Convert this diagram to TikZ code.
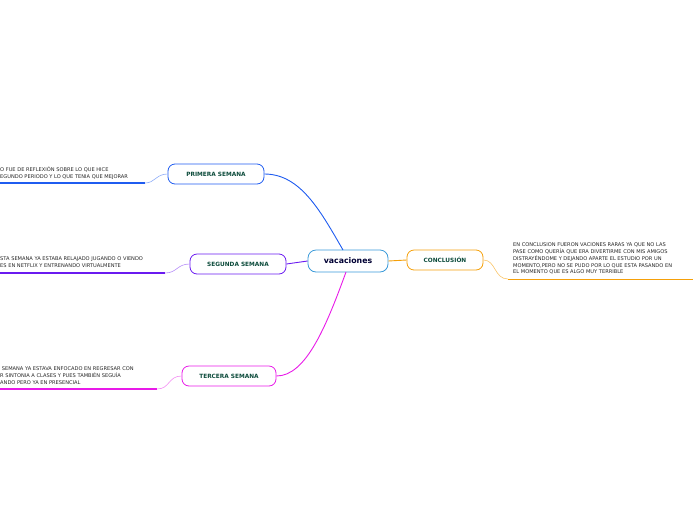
\documentclass[tikz,border=0pt]{standalone}
\usepackage{fontspec}
\setmainfont{DejaVu Sans}
\definecolor{colb}{HTML}{1F5CF0}
\definecolor{colp}{HTML}{6A1AF0}
\definecolor{colm}{HTML}{E81AE8}
\definecolor{colo}{HTML}{F5A00A}
\definecolor{colc}{HTML}{3A9AD9}
\definecolor{tg}{HTML}{0B4A3A}
\begin{document}
\begin{tikzpicture}[x=1pt,y=-1pt,
 topic/.style={draw,rounded corners=7pt,line width=0.8pt,minimum height=20pt,font=\fontsize{5.8pt}{6pt}\selectfont\bfseries,text=tg,inner sep=0pt},
 txt/.style={font=\fontsize{5.1pt}{6.7pt}\selectfont,align=left,inner sep=0pt,text=black!85},
 uline/.style={line width=1.1pt}]
\useasboundingbox (0,0) rectangle (696,520);
\clip (0,0) rectangle (696,520);
\node[draw=colc,rounded corners=8pt,line width=0.8pt,minimum width=80pt,minimum height=22pt,font=\fontsize{7.8pt}{8pt}\selectfont\bfseries,text=black!80!blue] (v) at (348,261) {vacaciones};
\node[topic,draw=colb,minimum width=96pt] (p) at (216,174) {PRIMERA SEMANA};
\node[topic,draw=colp,minimum width=96pt] (s) at (238,264) {SEGUNDA SEMANA};
\node[topic,draw=colm,minimum width=94pt] (t) at (229,376) {TERCERA SEMANA};
\node[topic,draw=colo,minimum width=76pt] (c) at (445,260) {CONCLUSIÓN};
\node[txt,anchor=north west] (pt) at (0,167) {O FUE DE REFLEXIÓN SOBRE LO QUE HICE\\EGUNDO PERIODO Y LO QUE TENIA QUE MEJORAR};
\node[txt,anchor=north west] (st) at (0,257) {STA SEMANA YA ESTABA RELAJADO JUGANDO O VIENDO\\ES EN NETFLIX Y ENTRENANDO VIRTUALMENTE};
\node[txt,anchor=north west] (tt) at (0,367) {\ SEMANA YA ESTAVA ENFOCADO EN REGRESAR CON\\R SINTONIA A CLASES Y PUES TAMBIÉN SEGUÍA\\ANDO PERO YA EN PRESENCIAL};
\node[txt,anchor=north west] (ct) at (513,243) {EN CONCLUSION FUERON VACIONES RARAS YA QUE NO LAS\\PASE COMO QUERÍA QUE ERA DIVERTIRME CON MIS AMIGOS\\DISTRAYÉNDOME Y DEJANDO APARTE EL ESTUDIO POR UN\\MOMENTO,PERO NO SE PUDO POR LO QUE ESTA PASANDO EN\\EL MOMENTO QUE ES ALGO MUY TERRIBLE};
\coordinate (pu) at (145,183); \coordinate (su) at (165,273);
\coordinate (tu) at (157,389); \coordinate (cu) at (508,279);
\draw[uline,draw=colb] (0,183) -- (pu);
\draw[uline,draw=colp] (0,273) -- (su);
\draw[uline,draw=colm] (0,389) -- (tu);
\draw[uline,draw=colo,line width=0.9pt] (cu) -- (693,279);
\draw[draw=colb!50,line width=0.6pt] (pu) .. controls (155,183) and (156,174) .. (p.west);
\draw[draw=colp!50,line width=0.6pt] (su) .. controls (177,273) and (177,264) .. (s.west);
\draw[draw=colm!50,line width=0.6pt] (tu) .. controls (170,389) and (168,376) .. (t.west);
\draw[draw=colo!60,line width=0.6pt] (c.east) .. controls (496,260) and (494,279) .. (cu);
\draw[draw=colb,line width=0.9pt] (343,250) .. controls (320,210) and (300,174) .. (p.east);
\draw[draw=colp,line width=0.9pt] (v.west) -- (s.east);
\draw[draw=colm,line width=0.9pt] (346,272) .. controls (325,330) and (305,376) .. (t.east);
\draw[draw=colo,line width=0.9pt] (v.east) -- (c.west);
\end{tikzpicture}
\end{document}
